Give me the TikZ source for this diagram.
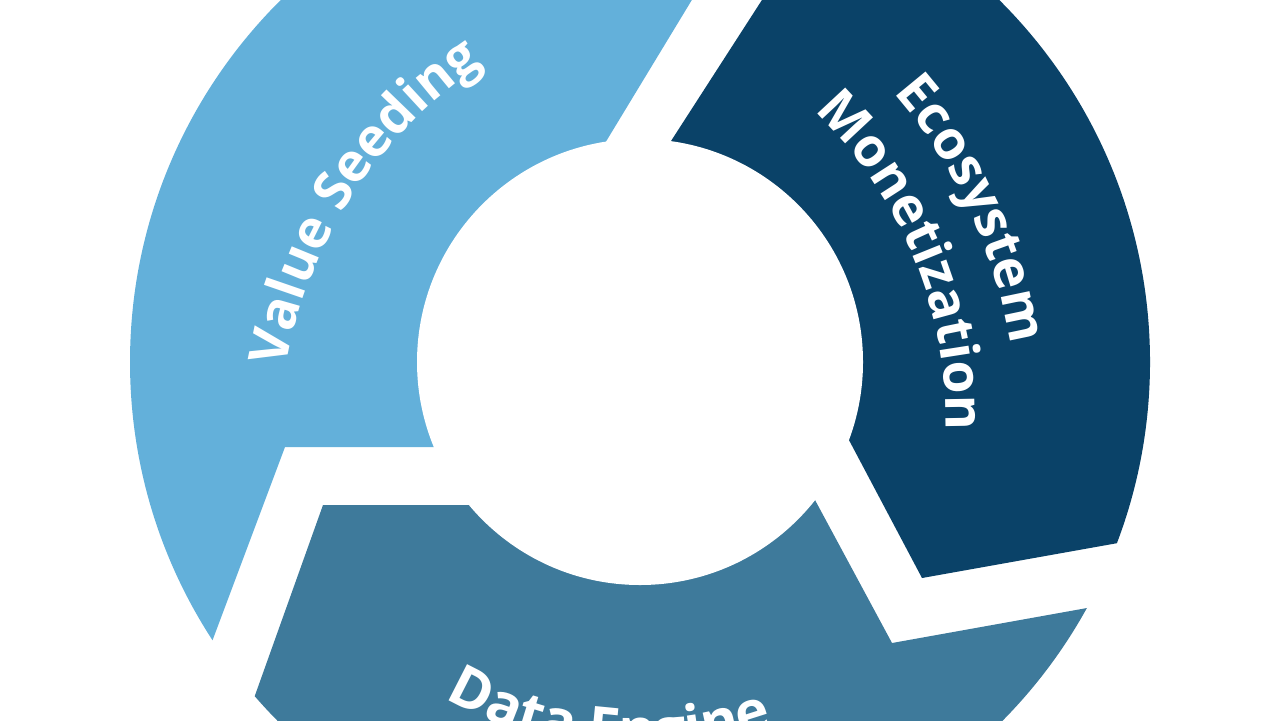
\documentclass[tikz,border=0pt]{standalone}
\usepackage{fontspec}
\setmainfont{Open Sans}
\usepackage{xcolor}
\usepackage{tikz}
\usetikzlibrary{decorations.text}

\definecolor{seedblue}{RGB}{99,176,218}
\definecolor{ecodark}{RGB}{10,66,104}
\definecolor{datamid}{RGB}{62,122,155}
\newcommand{\ringfont}{\fontsize{15.2}{18}\selectfont\bfseries}
\newcommand{\bigringfont}{\fontsize{16.2}{18}\selectfont\bfseries}

\begin{document}
\begin{tikzpicture}[
		x=0.01cm, y=0.01cm,
		arclabel/.style 2 args={
			decorate,
			decoration={text along path, text align=center, text color=white, text={|#2|#1}}
			}
		]
		\useasboundingbox (0,0) rectangle (1280,720);
		\clip (0,0) rectangle (1280,720);
		\coordinate (c) at (640,358);
		
		\begin{scope}
			\clip (c) circle (510);
			% value seeding
			\fill[seedblue] (801,900) -- (576,529) -- (c) -- (640,273) -- (285,273) -- (177,-15) -- (-100,-15) -- (-100,900) -- cycle;
			% ecosystem monetization
			\fill[ecodark] (878,900) -- (642,534) -- (c) -- (814,346) -- (850,278) -- (922,142) -- (1118,177) -- (1200,192) -- (1400,192) -- (1400,900) -- cycle;
			% data engine
			\fill[datamid] (323,215) -- (640,215) -- (777,291) -- (815,220) -- (892,77) -- (1087,112) -- (1200,132) -- (1200,-300) -- (139,-300) -- cycle;
		\end{scope}
		\fill[white] (c) circle (223);
		
		\coordinate (cv) at (733,278);
		\coordinate (ce) at (520,300);
		\path[arclabel={Value Seeding}{\ringfont}] (cv) ++(189:453) arc[start angle=189, end angle=105, radius=453];
		\path[arclabel={Ecosystem}{\ringfont}] (ce) ++(70:496) arc[start angle=70, end angle=-20, radius=496];
		\path[arclabel={Monetization}{\ringfont}] (ce) ++(67.5:426) arc[start angle=67.5, end angle=-22.5, radius=426];
		\path[arclabel={Data Engine}{\bigringfont}] (c) ++(225:388) arc[start angle=225, end angle=305, radius=388];
	\end{tikzpicture}
\end{document}
